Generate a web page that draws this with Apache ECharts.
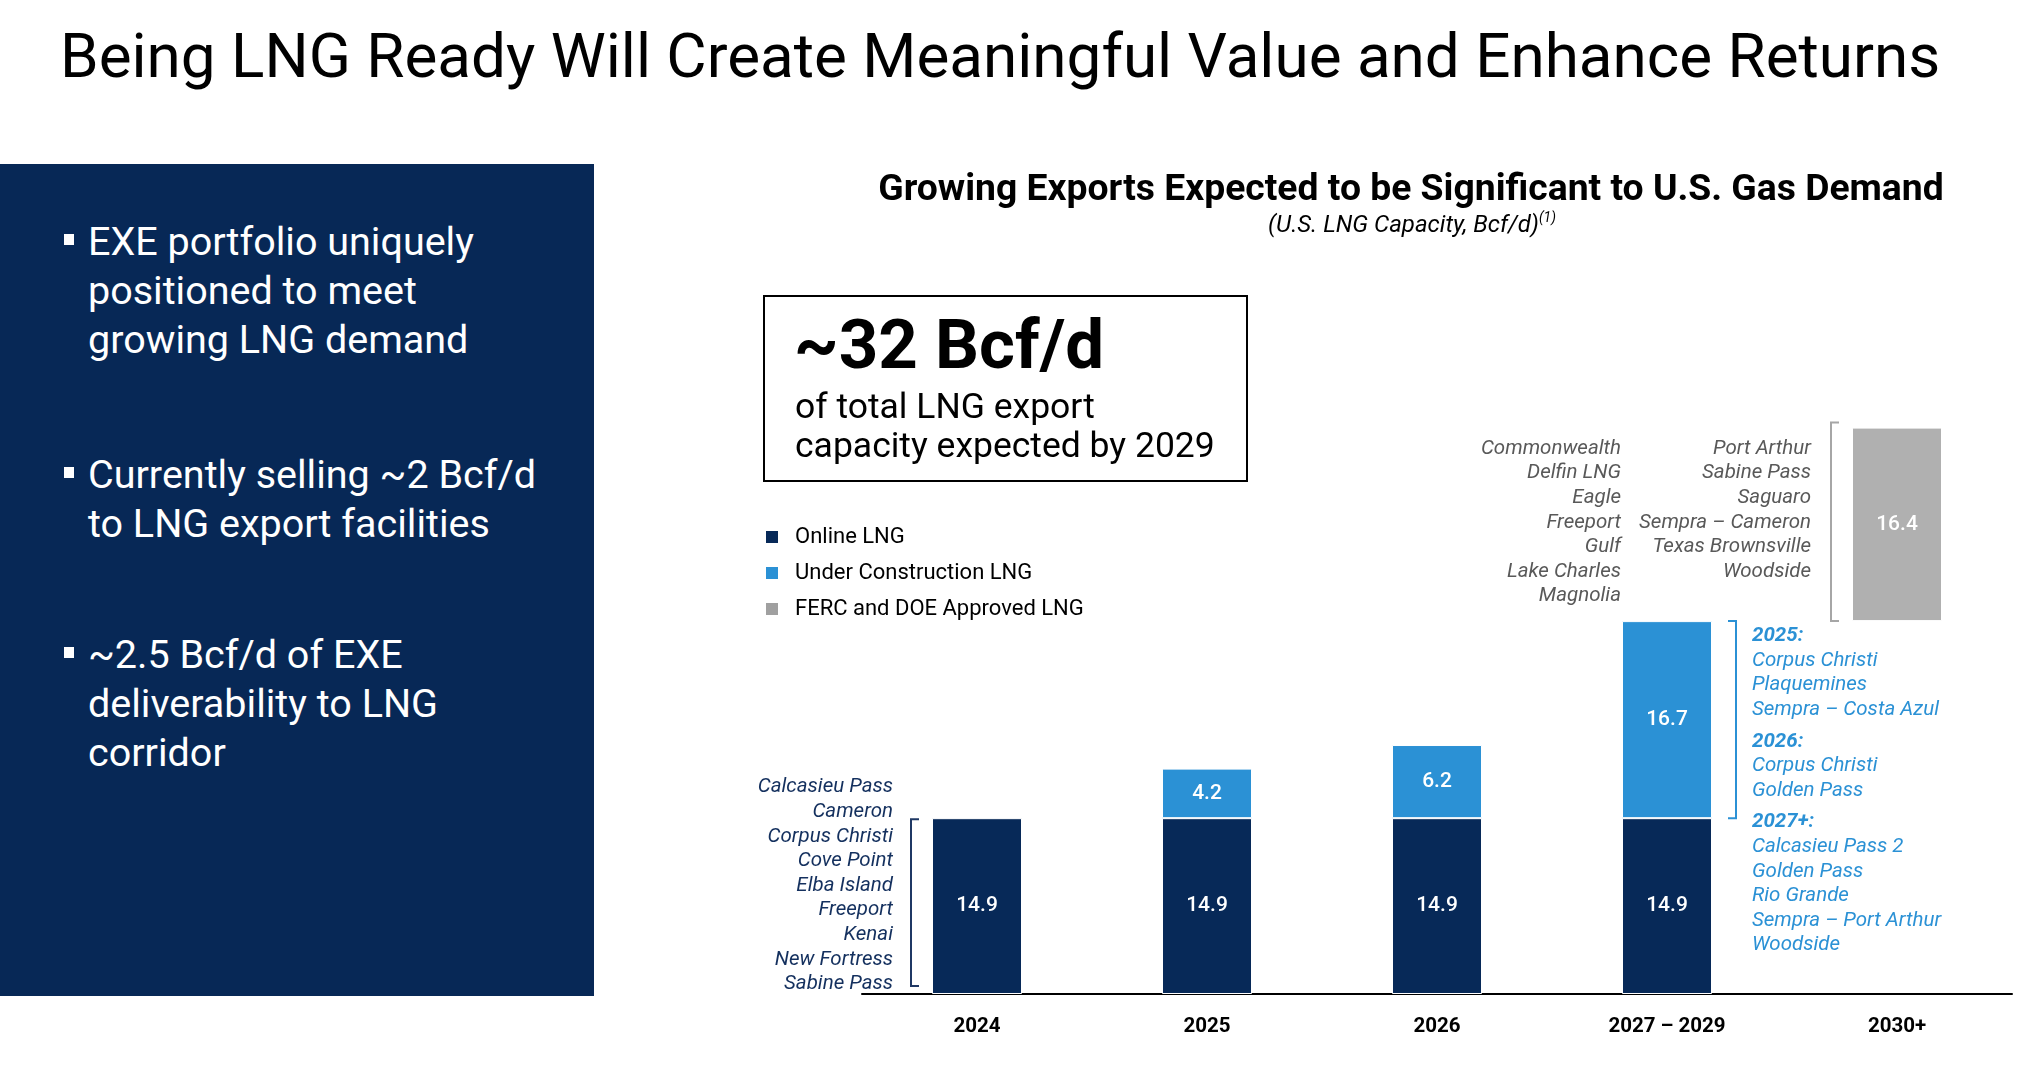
<!DOCTYPE html>
<html>
<head>
<meta charset="utf-8">
<title>Being LNG Ready</title>
<script src="https://cdn.jsdelivr.net/npm/echarts@6/dist/echarts.min.js"></script>
<style>
  html, body { margin: 0; padding: 0; background: #fff; }
  body {
    width: 2021px; height: 1068px; position: relative; overflow: hidden;
    font-family: Roboto, 'Noto Sans', sans-serif; color: #000;
  }
  #chart { position: absolute; left: 0; top: 0; width: 2021px; height: 1068px; }
  .slide-title {
    position: absolute; left: 60px; top: 25px; z-index: 2;
    font-size: 62px; line-height: 62px; white-space: nowrap;
  }
  .panel {
    position: absolute; left: 0; top: 164px; width: 594px; height: 832px;
    background: #072856; z-index: 2;
  }
  .panel .bullet {
    position: absolute; left: 88px; color: #fff;
    font-size: 39.5px; line-height: 49px; white-space: nowrap;
  }
  .panel .bullet::before {
    content: ''; position: absolute; left: -24px; top: 17px;
    width: 10px; height: 11px; background: #fff;
  }
  .callout {
    position: absolute; left: 763px; top: 295px; width: 481px; height: 183px;
    border: 2px solid #000; z-index: 2; white-space: nowrap;
  }
  .callout .big {
    position: absolute; left: 29px; top: 14px;
    font-size: 69px; line-height: 68px; font-weight: bold;
  }
  .callout .small {
    position: absolute; left: 30px; top: 90px;
    font-size: 35.5px; line-height: 39px;
  }
</style>
</head>
<body>
<div id="chart"></div>

<div class="slide-title">Being LNG Ready Will Create Meaningful Value and Enhance Returns</div>

<div class="panel">
  <div class="bullet" style="top: 53px">EXE portfolio uniquely<br>positioned to meet<br>growing LNG demand</div>
  <div class="bullet" style="top: 286px">Currently selling ~2 Bcf/d<br>to LNG export facilities</div>
  <div class="bullet" style="top: 466px">~2.5 Bcf/d of EXE<br>deliverability to LNG<br>corridor</div>
</div>

<div class="callout">
  <div class="big">~32 Bcf/d</div>
  <div class="small">of total LNG export<br>capacity expected by 2029</div>
</div>

<script>
// U.S. LNG capacity, Bcf/d
const categories = ['2024', '2025', '2026', '2027 – 2029', '2030+']
const onlineLng = [14.9, 14.9, 14.9, 14.9, '-']
const underConstructionLng = ['-', 4.2, 6.2, 16.7, '-']
const approvedLng = ['-', '-', '-', '-', 16.4]
// the approved bar floats on top of the 2027 – 2029 total
const approvedBase = ['-', '-', '-', '-', onlineLng[3] + underConstructionLng[3]]

const onlineProjects = ['Calcasieu Pass', 'Cameron', 'Corpus Christi', 'Cove Point', 'Elba Island',
  'Freeport', 'Kenai', 'New Fortress', 'Sabine Pass']
const approvedProjectsLeft = ['Commonwealth', 'Delfin LNG', 'Eagle', 'Freeport', 'Gulf',
  'Lake Charles', 'Magnolia']
const approvedProjectsRight = ['Port Arthur', 'Sabine Pass', 'Saguaro', 'Sempra – Cameron',
  'Texas Brownsville', 'Woodside']
const constructionYears = ['2025:', '2026:', '2027+:']
const constructionProjects = [
  ['Corpus Christi', 'Plaquemines', 'Sempra – Costa Azul'],
  ['Corpus Christi', 'Golden Pass'],
  ['Calcasieu Pass 2', 'Golden Pass', 'Rio Grande', 'Sempra – Port Arthur', 'Woodside']
]

const NAVY = '#072958'
const BLUE = '#2b91d5'
const GREY = '#b0b0b0'
const FONT = 'Roboto'
const BAR_WIDTH = 90

const barLabel = {
  show: true,
  position: 'inside',
  color: '#fff',
  fontFamily: FONT,
  fontSize: 21,
  fontWeight: 500
}

const chart = echarts.init(document.getElementById('chart'))

const option = {
  animation: false,
  textStyle: { fontFamily: FONT },
  legend: {
    orient: 'vertical',
    left: 759,
    top: 521,
    itemWidth: 14,
    itemHeight: 14,
    itemGap: 14,
    icon: 'rect',
    selectedMode: false,
    textStyle: { color: '#000', fontSize: 22, fontFamily: FONT, padding: [0, 0, 0, 11] },
    data: [
      { name: 'Online LNG' },
      { name: 'Under Construction LNG' },
      { name: 'FERC and DOE Approved LNG', itemStyle: { color: '#a0a0a0' } }
    ]
  },
  grid: {
    left: 862,
    width: 1150,
    top: 286,
    bottom: 74
  },
  xAxis: {
    type: 'category',
    data: categories,
    axisLine: { lineStyle: { color: '#000', width: 2 } },
    axisTick: { show: false },
    axisLabel: {
      color: '#000',
      fontFamily: FONT,
      fontSize: 20.5,
      fontWeight: 'bold',
      margin: 22
    }
  },
  yAxis: {
    type: 'value',
    min: 0,
    max: 60,
    show: false
  },
  series: [
    {
      name: 'Online LNG',
      type: 'bar',
      stack: 'capacity',
      barWidth: BAR_WIDTH,
      data: onlineLng,
      itemStyle: { color: NAVY, borderColor: '#fff', borderWidth: 1 },
      label: barLabel
    },
    {
      name: 'Under Construction LNG',
      type: 'bar',
      stack: 'capacity',
      data: underConstructionLng,
      itemStyle: { color: BLUE, borderColor: '#fff', borderWidth: 1 },
      label: barLabel
    },
    {
      name: 'base',
      type: 'bar',
      stack: 'capacity',
      data: approvedBase,
      silent: true,
      itemStyle: { color: 'transparent' }
    },
    {
      name: 'FERC and DOE Approved LNG',
      type: 'bar',
      stack: 'capacity',
      data: approvedLng,
      itemStyle: { color: GREY, borderColor: '#fff', borderWidth: 1 },
      label: barLabel
    }
  ]
}

chart.setOption(option)

// annotations hang off the bars, so place them from the axis scales
const px = (idx, val) => chart.convertToPixel({ gridIndex: 0 }, [idx, val])
const half = BAR_WIDTH / 2
const step = 24.6

function text (x, y, str, color, align, weight) {
  return {
    type: 'text',
    x: x,
    y: y,
    silent: true,
    style: {
      text: str,
      fill: color,
      align: align,
      verticalAlign: 'middle',
      fontFamily: FONT,
      fontSize: 20.5,
      fontStyle: 'italic',
      fontWeight: weight || 'normal'
    }
  }
}

function bracket (points, color) {
  return {
    type: 'polyline',
    silent: true,
    shape: { points: points },
    style: { stroke: color, lineWidth: 2, fill: null }
  }
}

const graphics = []

// chart heading
graphics.push({
  type: 'text',
  x: 1411,
  y: 191,
  style: {
    text: 'Growing Exports Expected to be Significant to U.S. Gas Demand',
    fill: '#000',
    align: 'center',
    verticalAlign: 'middle',
    fontFamily: FONT,
    fontSize: 37.3,
    fontWeight: 'bold'
  }
})
graphics.push({
  type: 'text',
  x: 1412,
  y: 226,
  style: {
    text: '{a|(U.S. LNG Capacity, Bcf/d)}{s|(1)}',
    align: 'center',
    verticalAlign: 'middle',
    rich: {
      a: { fontFamily: FONT, fontSize: 24, fontStyle: 'italic', fill: '#000', lineHeight: 30 },
      s: { fontFamily: FONT, fontSize: 14, fontStyle: 'italic', fill: '#000', lineHeight: 30, verticalAlign: 'top' }
    }
  }
})

// online projects, left of the 2024 bar
const [x0, yOnlineTop] = px(0, onlineLng[0])
const yAxis0 = px(0, 0)[1]
const bx0 = x0 - half - 21
graphics.push(bracket([[bx0 + 8, yOnlineTop + 1], [bx0, yOnlineTop + 1], [bx0, yAxis0 - 8], [bx0 + 8, yAxis0 - 8]], '#1f3864'))
onlineProjects.forEach((name, i) => {
  const y = yAxis0 - 10 - (onlineProjects.length - 1 - i) * step
  graphics.push(text(x0 - half - 39, y, name, '#14305e', 'right'))
})

// under construction projects, right of the 2027 – 2029 bar
const [x3, yConTop] = px(3, onlineLng[3] + underConstructionLng[3])
const yConBottom = px(3, onlineLng[3])[1]
const bx3 = x3 + half + 24
graphics.push(bracket([[bx3 - 8, yConTop], [bx3, yConTop], [bx3, yConBottom], [bx3 - 8, yConBottom]], BLUE))
let yc = yConTop + 15
constructionYears.forEach((year, k) => {
  if (k > 0) yc += 7
  graphics.push(text(bx3 + 16, yc, year, BLUE, 'left', 'bold'))
  yc += step
  constructionProjects[k].forEach(name => {
    graphics.push(text(bx3 + 16, yc, name, BLUE, 'left'))
    yc += step
  })
})

// approved projects, left of the 2030+ bar
const [x4, yAppTop] = px(4, approvedBase[4] + approvedLng[4])
const yAppBottom = px(4, approvedBase[4])[1]
const bx4 = x4 - half - 21
graphics.push(bracket([[bx4 + 8, yAppTop - 5], [bx4, yAppTop - 5], [bx4, yAppBottom], [bx4 + 8, yAppBottom]], '#a6a6a6'))
approvedProjectsLeft.forEach((name, i) => {
  graphics.push(text(bx4 - 210, yAppTop + 21 + i * step, name, '#595959', 'right'))
})
approvedProjectsRight.forEach((name, i) => {
  graphics.push(text(bx4 - 20, yAppTop + 21 + i * step, name, '#595959', 'right'))
})

chart.setOption({ graphic: graphics })
</script>
</body>
</html>
